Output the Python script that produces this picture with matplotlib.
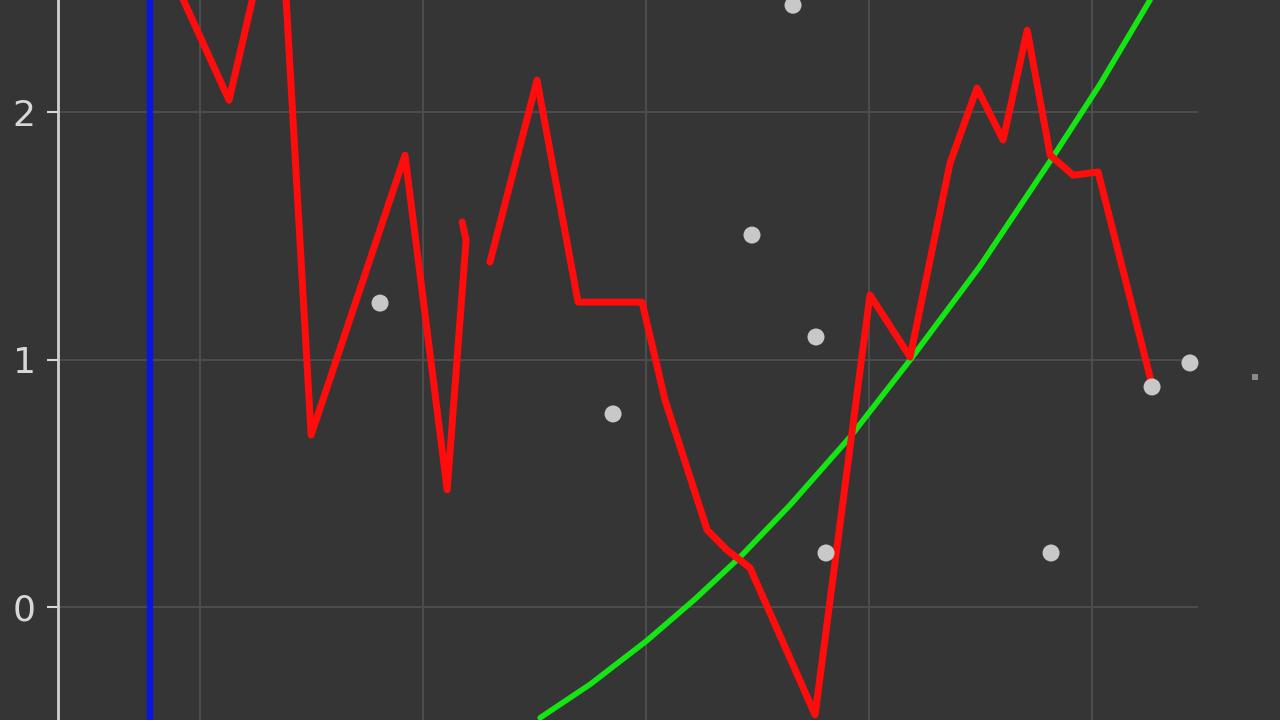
import numpy as np
import matplotlib.pyplot as plt

# red series (NaN marks the break in the line)
red_x = [0.895, 1.130, 1.260, 1.381, 1.498, 1.919, 2.108, 2.193, 2.175, np.nan,
         2.300, 2.511, 2.695, 2.982, 3.085, 3.274, 3.363, 3.466, 3.758, 4.004,
         4.184, 4.363, 4.484, 4.601, 4.709, 4.812, 4.915, 5.027, 5.269]
red_y = [2.513, 2.048, 2.554, 2.533, 0.695, 1.826, 0.473, 1.483, 1.556, np.nan,
         1.394, 2.129, 1.232, 1.232, 0.836, 0.311, 0.230, 0.158, -0.436, 1.261,
         1.010, 1.794, 2.097, 1.887, 2.331, 1.826, 1.745, 1.758, 0.897]

# green curve
green_x = [2.525, 2.749, 3.004, 3.220, 3.422, 3.646, 3.915, 4.184, 4.498,
           4.821, 5.036, 5.260]
green_y = [-0.448, -0.313, -0.136, 0.032, 0.202, 0.412, 0.687, 0.998, 1.378,
           1.814, 2.113, 2.453]

# grey scatter points
dots_x = [1.807, 2.852, 3.475, 3.659, 3.762, 3.807, 4.816, 5.269, 5.439]
dots_y = [1.228, 0.780, 1.503, 2.432, 1.091, 0.218, 0.218, 0.889, 0.986]
faint_x = [5.731]
faint_y = [0.929]

blue_x = 0.776
y_ticks = [0, 1, 2]
x_grid = [1, 2, 3, 4, 5]

BG = '#353535'


def main():
    fig = plt.figure(figsize=(12.8, 7.2), dpi=100, facecolor=BG)
    ax = fig.add_axes([58 / 1280, 0, (1198 - 58) / 1280, 1])
    ax.set_facecolor(BG)

    ax.set_xlim(0.363, 5.475)
    ax.set_ylim(-0.457, 2.453)

    ax.set_xticks(x_grid)
    ax.set_yticks(y_ticks)
    ax.grid(True, color='#4c4c4c', linewidth=1.5)
    ax.set_axisbelow(True)

    for side in ['top', 'right', 'bottom']:
        ax.spines[side].set_visible(False)
    ax.spines['left'].set_color('#d0d0d0')
    ax.spines['left'].set_linewidth(2)

    ax.tick_params(axis='x', length=0, labelbottom=False)
    ax.tick_params(axis='y', colors='#d8d8d8', labelsize=26, length=8,
                   width=1.5, pad=8)

    ax.axvline(blue_x, color='#0a14e6', linewidth=4.5, zorder=3)
    ax.plot(green_x, green_y, color='#14e614', linewidth=4, zorder=4,
            solid_capstyle='round', solid_joinstyle='round')
    ax.plot(red_x, red_y, color='#ff0d0d', linewidth=5, zorder=5,
            solid_capstyle='round', solid_joinstyle='round')
    ax.scatter(dots_x, dots_y, s=150, color='#c8c8c8', edgecolors='none',
               zorder=6, clip_on=False)
    ax.scatter(faint_x, faint_y, s=20, marker='s', color='#8a8a8a',
               edgecolors='none', zorder=6, clip_on=False)

    fig.savefig('out.png', dpi=100, facecolor=BG)


if __name__ == '__main__':
    main()
